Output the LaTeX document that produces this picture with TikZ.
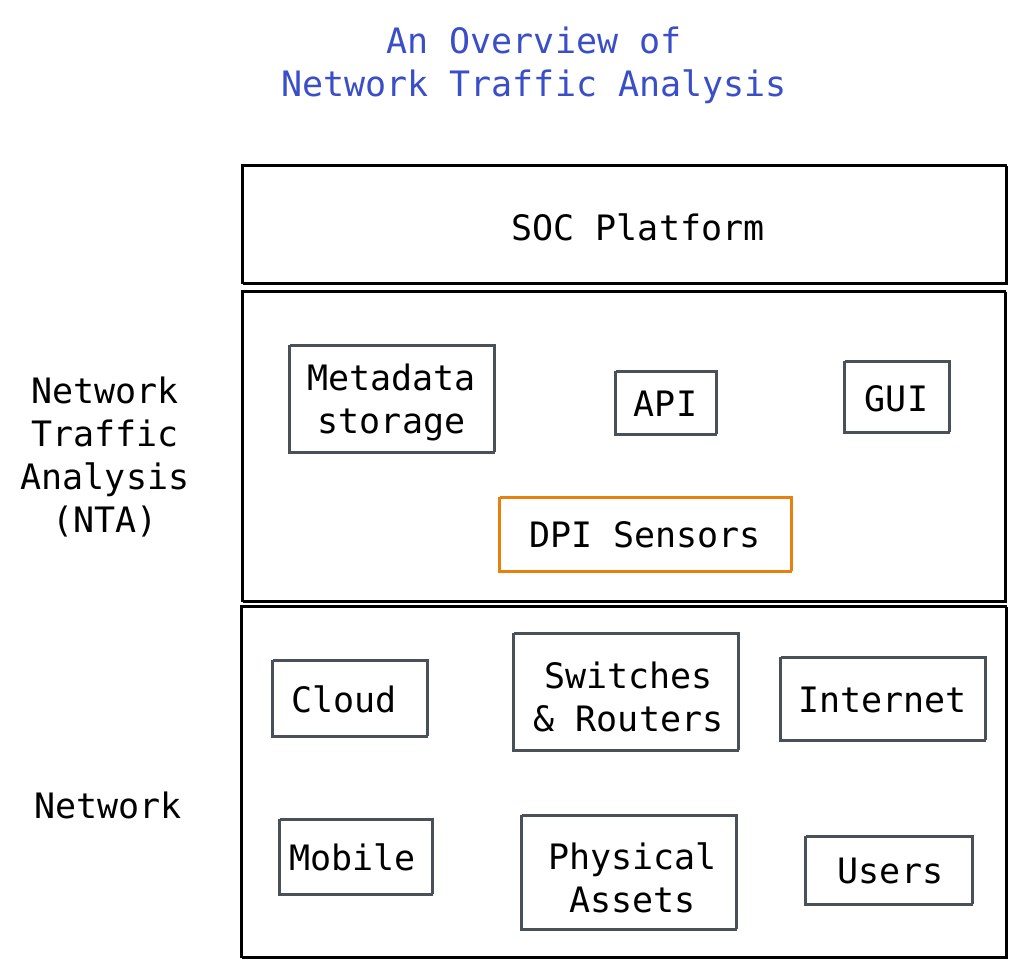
\documentclass[tikz,border=0pt]{standalone}
\usepackage{fontspec}
\setmonofont{DejaVu Sans Mono}
\definecolor{titleblue}{RGB}{58,78,200}
\definecolor{boxgrey}{RGB}{73,80,87}
\definecolor{dpiorange}{RGB}{232,128,14}
\newcommand\lowstrut{\rule{0pt}{16.6pt}}
\newcommand\mlstrut{\rule{0pt}{18.2pt}}
\begin{document}
\begin{tikzpicture}[x=0.5pt,y=-0.5pt,
  every node/.style={font=\ttfamily\fontsize{17.5pt}{21.5pt}\selectfont, align=center, inner sep=0pt},
  layer/.style={draw=black, line width=1.2pt, rectangle,
    postaction={draw, line width=0.5pt, transform canvas={xshift=0.8pt,yshift=-0.6pt}}},
  item/.style={draw=boxgrey, line width=0.8pt, rectangle,
    postaction={draw, line width=0.4pt, transform canvas={xshift=0.9pt,yshift=0.7pt}}},
  dpi/.style={draw=dpiorange, line width=0.8pt, rectangle,
    postaction={draw, line width=0.4pt, transform canvas={xshift=0.9pt,yshift=0.7pt}}},
  lbl/.style={}]
\useasboundingbox (0,0) rectangle (1024,975);
% title
\node[text=titleblue] (title) at (534,65) {An Overview of\\Network Traffic Analysis};
% layers
\node[layer, minimum width=382pt, minimum height=59pt] (soc) at (624,224) {\lowstrut\hspace*{14pt}SOC Platform};
\node[layer, minimum width=381.5pt, minimum height=155pt] (nta) at (623.5,446) {};
\node[layer, minimum width=382.5pt, minimum height=175.5pt] (net) at (623.5,781.5) {};
% left labels
\node[lbl] (ntalbl) at (105,457) {Network\\Traffic\\Analysis\\(NTA)};
\node[lbl] (netlbl) at (108,805) {Network};
% NTA items
\node[item, minimum width=102.5pt, minimum height=53.5pt] (meta) at (391.5,399.5) {\lowstrut Metadata\\storage};
\node[item, minimum width=50.5pt, minimum height=31.5pt] (api) at (665.5,403.5) {API};
\node[item, minimum width=52.5pt, minimum height=35.5pt] (gui) at (896.5,397.5) {\rule{0pt}{14pt}GUI};
\node[dpi, minimum width=146pt, minimum height=37pt] (dpis) at (645,535) {DPI Sensors};
% network items
\node[item, minimum width=77.5pt, minimum height=38pt] (cloud) at (349.5,699) {\hspace*{-5.5pt}Cloud};
\node[item, minimum width=112.5pt, minimum height=58.5pt] (sw) at (625.5,692.5) {\mlstrut\hspace*{3pt}Switches\\\hspace*{3pt}\&~Routers};
\node[item, minimum width=102.5pt, minimum height=41.5pt] (inet) at (882.5,699.5) {Internet};
\node[item, minimum width=76.5pt, minimum height=37.5pt] (mobile) at (355.5,857.5) {\hspace*{-3pt}Mobile};
\node[item, minimum width=107.5pt, minimum height=57pt] (phys) at (628.5,873) {\mlstrut\hspace*{4pt}Physical\\\hspace*{4pt}Assets};
\node[item, minimum width=83.5pt, minimum height=34pt] (users) at (888.5,871) {\hspace*{2pt}Users};
\end{tikzpicture}
\end{document}
